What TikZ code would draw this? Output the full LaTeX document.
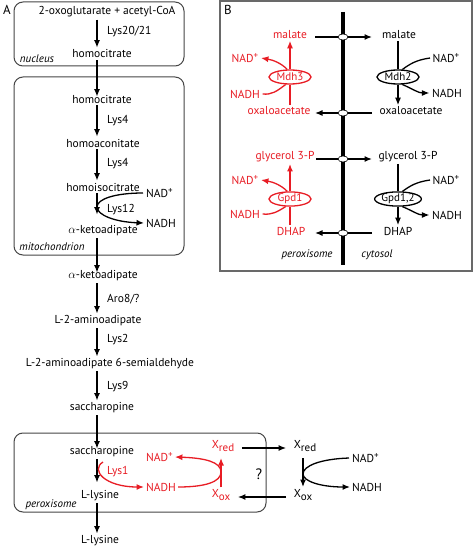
\documentclass[tikz,border=0pt]{standalone}
\usepackage{fontspec}
\setmainfont{PT Sans}
\usetikzlibrary{arrows.meta,shapes.geometric}
\definecolor{myred}{RGB}{232,28,36}
\definecolor{boxgray}{RGB}{70,70,70}
\definecolor{bgray}{RGB}{105,105,105}
\begin{document}
\begin{tikzpicture}[x=1pt,y=-1pt,
  t/.style={font=\fontsize{11.5}{13}\selectfont, inner sep=2pt},
  en/.style={font=\fontsize{11.5}{13}\selectfont, inner sep=0pt, anchor=west},
  sm/.style={font=\fontsize{11.5}{13}\selectfont, inner sep=1.5pt},
  arr/.style={line width=1.3pt, -{Latex[length=7.5pt,width=6pt]}},
  ln/.style={line width=1.3pt},
  comp/.style={draw=boxgray, line width=1pt, rounded corners=9pt},
  cl/.style={font=\fontsize{11}{12}\selectfont\itshape, inner sep=0pt},
  rd/.style={myred},
  enz/.style={ellipse, draw, line width=1.3pt, minimum width=42pt, minimum height=14pt, inner sep=0pt, font=\fontsize{11}{12}\selectfont},
  tp/.style={ellipse, draw, fill=white, line width=0.6pt, minimum width=10pt, minimum height=6pt, inner sep=0pt}
]
\fill[white] (0,0) rectangle (474,548);
\useasboundingbox (0,0) rectangle (474,548);
\newcommand{\Xs}[1]{X\raisebox{-3.5pt}{\fontsize{11}{11}\selectfont #1}}
\newcommand{\Nadp}{NAD\raisebox{4pt}{\fontsize{9}{9}\selectfont +}}

% ---------------- Panel A ----------------
\node[font=\fontsize{13}{14}\selectfont, inner sep=0pt] (labA) at (7,10) {A};
\draw[comp] (14,2) rectangle (184,66);
\draw[comp] (14,77) rectangle (184,255);
\draw[comp] (14,433) rectangle (266,512);
\node[cl] (lnuc) at (37,59) {nucleus};
\node[cl] (lmit) at (52,247) {mitochondrion};
\node[cl] (lper) at (51,505) {peroxisome};

\coordinate (ax) at (97,0);
\node[t] (n1) at (107,12) {2-oxoglutarate + acetyl-CoA};
\node[t] (n2) at (102,54) {homocitrate};
\node[t] (m1) at (102,99) {homocitrate};
\node[t] (m2) at (103,143) {homoaconitate};
\node[t] (m3) at (103,187) {homoisocitrate};
\node[t] (m4) at (103,231) {$\alpha$-ketoadipate};
\node[t] (c1) at (103,276) {$\alpha$-ketoadipate};
\node[t] (c2) at (98,321) {L-2-aminoadipate};
\node[t] (c3) at (110,364) {L-2-aminoadipate 6-semialdehyde};
\node[t] (c4) at (102,408) {saccharopine};
\node[t] (p1) at (102,452) {saccharopine};
\node[t] (p2) at (100,496) {L-lysine};
\node[t] (c5) at (100,541) {L-lysine};

\node[en] (e1) at (107,32) {Lys20/21};
\node[en] (e2) at (107,121) {Lys4};
\node[en] (e3) at (107,164) {Lys4};
\node[en] (e4) at (107,210) {Lys12};
\node[en] (e5) at (107,299) {Aro8/?};
\node[en] (e6) at (107,340) {Lys2};
\node[en] (e7) at (107,387) {Lys9};
\node[en, rd] (e8) at (107,472) {Lys1};

\draw[arr] (n1.south -| ax) -- (n2.north -| ax);
\draw[arr] (n2.south -| ax) -- ([yshift=-4pt]m1.north -| ax);
\draw[arr] (m1.south -| ax) -- (m2.north -| ax);
\draw[arr] (m2.south -| ax) -- (m3.north -| ax);
\draw[arr, shorten >=9pt] (m3.south -| ax) -- (m4.north -| ax);
\draw[arr] (m4.south -| ax) -- ([yshift=-4pt]c1.north -| ax);
\draw[arr] (c1.south -| ax) -- (c2.north -| ax);
\draw[arr] (c2.south -| ax) -- (c3.north -| ax);
\draw[arr] (c3.south -| ax) -- (c4.north -| ax);
\draw[arr] (c4.south -| ax) -- ([yshift=-4pt]p1.north -| ax);
\draw[arr, shorten >=6pt] (p1.south -| ax) -- (p2.north -| ax);
\draw[arr] (p2.south -| ax) -- (c5.north -| ax);

% Lys12 cofactor
\node[en] (nadA) at (146,193) {\Nadp};
\node[en] (nadhA) at (146,223) {NADH};
\draw[arr] ([xshift=-3pt]nadA.west) .. controls (115,193) and (97,199) .. (97,207)
  .. controls (97,215) and (115,222) .. ([xshift=-2pt]nadhA.west);

% Lys1 cycle (red)
\node[en, rd] (nadP) at (146,457) {\Nadp};
\node[en, rd] (nadhP) at (146,487) {NADH};
\node[sm, rd] (xredR) at (223,446) {\Xs{red}};
\node[sm, rd] (xoxR) at (221,495) {\Xs{ox}};
\coordinate (lys1s) at (103,462);
\draw[arr, rd] (lys1s) .. controls (90,470) and (105,487) .. ([xshift=-2pt]nadhP.west);
\draw[arr, rd] ([xshift=2pt]nadhP.east) .. controls (205,487) and (221,482) .. (221,472)
  .. controls (221,462) and (205,458) .. ([xshift=2pt]nadP.east);
\draw[arr, rd] (xoxR.north -| 221,0) -- (221,458);

% outside peroxisome
\node[sm] (xredB) at (305,446) {\Xs{red}};
\node[sm] (xoxB) at (303,495) {\Xs{ox}};
\node[font=\fontsize{15}{16}\selectfont, inner sep=0pt] (qm) at (259,474) {?};
\draw[arr] ([xshift=6pt]xredR.east |- 0,448) -- ([xshift=-6pt]xredB.west |- 0,448);
\draw[arr] ([xshift=-6pt]xoxB.west |- 0,497) -- ([xshift=6pt]xoxR.east |- 0,497);
\node[en] (nadC) at (352,458) {\Nadp};
\node[en] (nadhC) at (352,487) {NADH};
\draw[arr] (303,458) -- (303,487);
\draw[arr] ([xshift=-3pt]nadC.west) .. controls (320,459) and (303,466) .. (303,474)
  .. controls (303,481) and (320,487) .. ([xshift=-2pt]nadhC.west);

% ---------------- Panel B ----------------
\draw[draw=bgray, line width=1.6pt] (220,1) rectangle (472,271);
\node[font=\fontsize{13}{14}\selectfont, inner sep=0pt] (labB) at (228,10) {B};
\coordinate (memT) at (343,12);
\coordinate (memB) at (343,265);
\draw[line width=3.5pt] (memT) -- (memB);
\node[cl] (lperB) at (307,255) {peroxisome};
\node[cl] (lcyt) at (377,255) {cytosol};

% malate / oxaloacetate
\node[sm, rd] (malR) at (290,35) {malate};
\node[sm] (malB) at (399,35) {malate};
\node[sm, rd] (oxR) at (279,111) {oxaloacetate};
\node[sm] (oxB) at (411,111) {oxaloacetate};
\node[enz, rd] (mdh3) at (290,77) {Mdh3};
\node[enz] (mdh2) at (398,77) {Mdh2};
\node[sm, rd] (nadB1) at (245,58) {\Nadp};
\node[sm, rd] (nadhB1) at (245,94) {NADH};
\node[sm] (nadB2) at (446,58) {\Nadp};
\node[sm] (nadhB2) at (447,93) {NADH};

\draw[arr] (315,37) -- (372,37);
\draw[arr] (372,113) -- (315,113);
\node[tp] (tp1) at (343,37) {};
\node[tp] (tp2) at (343,113) {};

\draw[arr, rd] (mdh3.north) -- (malR.south -| mdh3.north);
\draw[ln, rd] (oxR.north -| mdh3.south) -- (mdh3.south);
\draw[arr, rd] (mdh3.110) .. controls (281,63) and (273,60) .. ([xshift=1pt]nadB1.east);
\draw[ln, rd] ([xshift=1pt]nadhB1.east) .. controls (272,95) and (277,91) .. (mdh3.240);
\draw[ln] (malB.south -| mdh2.north) -- (mdh2.north);
\draw[arr] (mdh2.south) -- (oxB.north -| mdh2.south);
\draw[ln] ([xshift=-1pt]nadB2.west) .. controls (416,60) and (410,64) .. (mdh2.60);
\draw[arr] (mdh2.300) .. controls (413,89) and (418,93) .. ([xshift=-1pt]nadhB2.west);

% glycerol 3-P / DHAP
\node[sm, rd] (glR) at (285,157) {glycerol 3-P};
\node[sm] (glB) at (408,157) {glycerol 3-P};
\node[sm, rd] (dhR) at (291,231) {DHAP};
\node[sm] (dhB) at (398,231) {DHAP};
\node[enz, rd] (gpd1) at (290,199) {Gpd1};
\node[enz] (gpd12) at (398,199) {Gpd1,2};
\node[sm, rd] (nadB3) at (245,180) {\Nadp};
\node[sm, rd] (nadhB3) at (245,214) {NADH};
\node[sm] (nadB4) at (446,180) {\Nadp};
\node[sm] (nadhB4) at (447,215) {NADH};

\draw[arr] (glR.east |- 0,159) -- (372,159);
\draw[arr] (372,233) -- (315,233);
\node[tp] (tp3) at (343,159) {};
\node[tp] (tp4) at (343,233) {};

\draw[arr, rd] (gpd1.north) -- (glR.south -| gpd1.north);
\draw[ln, rd] (dhR.north -| gpd1.south) -- (gpd1.south);
\draw[arr, rd] (gpd1.110) .. controls (281,185) and (273,182) .. ([xshift=1pt]nadB3.east);
\draw[ln, rd] ([xshift=1pt]nadhB3.east) .. controls (272,215) and (277,212) .. (gpd1.240);
\draw[ln] (glB.south -| gpd12.north) -- (gpd12.north);
\draw[arr] (gpd12.south) -- (dhB.north -| gpd12.south);
\draw[ln] ([xshift=-1pt]nadB4.west) .. controls (416,182) and (410,186) .. (gpd12.60);
\draw[arr] (gpd12.300) .. controls (413,211) and (418,215) .. ([xshift=-1pt]nadhB4.west);
\end{tikzpicture}
\end{document}
